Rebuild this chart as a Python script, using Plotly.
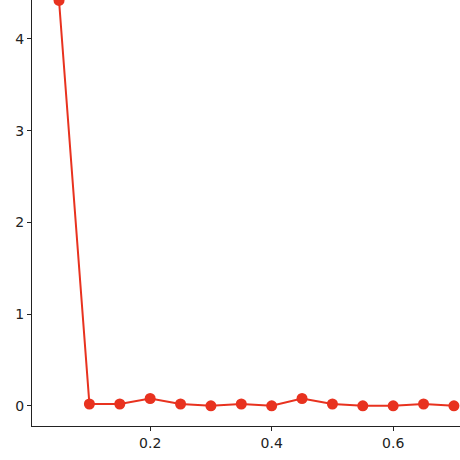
import plotly.graph_objects as go

# values
x_vals = [0.05, 0.1, 0.15, 0.2, 0.25, 0.3, 0.35, 0.4, 0.45, 0.5, 0.55, 0.6, 0.65, 0.7]
y_vals = [4.42, 0.02, 0.02, 0.08, 0.02, 0.0, 0.02, 0.0, 0.08, 0.02, 0.0, 0.0, 0.02, 0.0]
x_ticks = [0.2, 0.4, 0.6]
y_ticks = [0, 1, 2, 3, 4]

fig = go.Figure(go.Scatter(
    x=x_vals,
    y=y_vals,
    mode="lines+markers",
    line=dict(color="#e8321f", width=2),
    marker=dict(color="#e8321f", size=11),
    cliponaxis=False,
))

axis_style = dict(
    showline=True, linecolor="#222", linewidth=1,
    ticks="outside", ticklen=4, tickcolor="#222",
    showgrid=False, zeroline=False,
    tickfont=dict(family="DejaVu Sans", size=14, color="#222"),
)

fig.update_layout(
    width=460, height=460,
    margin=dict(l=32, r=0, t=0, b=34),
    plot_bgcolor="white", paper_bgcolor="white",
    showlegend=False,
    xaxis=dict(range=[0.0055, 0.71], tickvals=x_ticks, ticktext=[str(t) for t in x_ticks], **axis_style),
    yaxis=dict(range=[-0.22, 4.425], tickvals=y_ticks, **axis_style),
)

# drop the browser's default page margin so the figure sits at the corner
fig.write_html(
    "out.html",
    config={"displayModeBar": False},
    post_script="document.body.style.margin='0';document.body.style.overflow='hidden';",
)
